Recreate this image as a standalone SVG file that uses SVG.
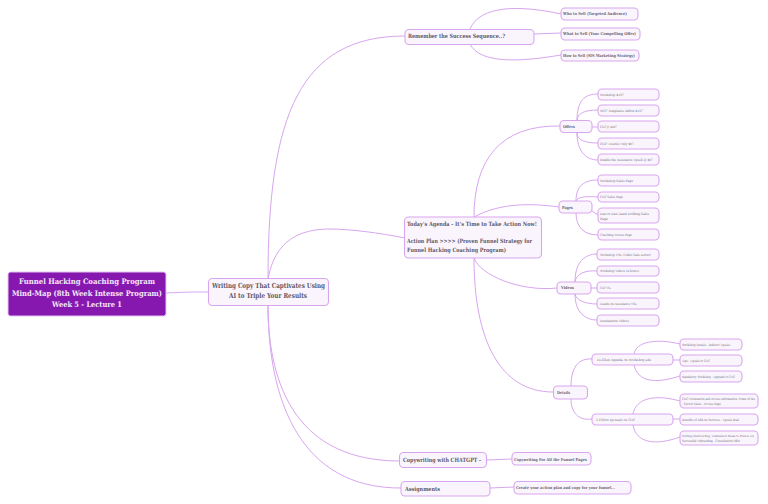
<svg xmlns="http://www.w3.org/2000/svg" width="768" height="504" viewBox="0 0 768 504">
<style>
text{font-family:"DejaVu Serif","Liberation Serif",serif;font-weight:700;fill:#5f5968}
.n{fill:#faf5fd;stroke:#d7a6ee;stroke-width:1.1}
.l{fill:none;stroke:#d7a6ee;stroke-width:1}
.t1{font-size:7px}.t2{font-size:5.8px}.t3{font-size:4px;fill:#6a6472}.t4{font-size:3.2px;fill:#77717f;font-weight:400}
.w{fill:#f4e8fa;font-size:7.6px}
</style>
<rect width="768" height="504" fill="#fff"/>
<g id="connectors">
<path class="l" d="M166 293C190 292 190 292 209 292"/>
<path class="l" d="M268 279C268 115 300 36 405 36"/>
<path class="l" d="M268 279C275 240 300 229 330 229C350 229 380 233 405 238"/>
<path class="l" d="M268 305C268 390 300 461 400 461"/>
<path class="l" d="M268 305C268 400 300 489 402 488"/>
<path class="l" d="M470 29C480 5 520 5 561 14"/>
<path class="l" d="M534 34L561 33"/>
<path class="l" d="M470 44C480 64 520 62 561 55"/>
<path class="l" d="M474 217C474 160 500 125 560 126"/>
<path class="l" d="M474 217C500 203 530 203 559 207"/>
<path class="l" d="M474 258C480 275 520 292 557 288"/>
<path class="l" d="M474 258C474 340 500 392 553 392"/>
<path class="l" d="M577 121C577 100 585 94 598 94"/><path class="l" d="M577 121C577 113 585 110 598 110"/><path class="l" d="M592 127L598 127"/><path class="l" d="M577 133C577 140 585 143 598 143"/><path class="l" d="M577 133C577 150 585 160 598 160"/>
<path class="l" d="M576 201C576 185 585 180 598 180"/><path class="l" d="M576 201C578 197 585 196 598 197"/><path class="l" d="M592 211L598 215"/><path class="l" d="M576 213C576 228 585 235 598 235"/>
<path class="l" d="M575 282C575 262 585 254 597 254"/><path class="l" d="M575 282C576 274 585 270 597 271"/><path class="l" d="M591 288L597 288"/><path class="l" d="M575 294C576 300 585 304 597 304"/><path class="l" d="M575 294C575 312 585 320 597 320"/>
<path class="l" d="M571 386C571 368 578 358 592 359"/><path class="l" d="M571 399C571 412 578 421 592 419"/>
<path class="l" d="M634 354C636 342 655 338 680 344"/><path class="l" d="M673 360L680 360"/><path class="l" d="M634 365C638 382 655 384 680 376"/>
<path class="l" d="M633 414C636 398 655 394 680 401"/><path class="l" d="M673 419L680 419"/><path class="l" d="M633 425C636 443 655 446 680 437"/>
<path class="l" d="M487 460L512 459"/>
<path class="l" d="M490 488L514 487"/>
</g>
<g id="root"><rect x="8" y="272" width="158" height="44" rx="2.5" fill="#8618b0" stroke="#e3c5f2"/><text class="w" x="19" y="283.500" textLength="136" lengthAdjust="spacingAndGlyphs">Funnel Hacking Coaching Program</text><text class="w" x="12" y="295.500" textLength="150" lengthAdjust="spacingAndGlyphs">Mind-Map (8th Week Intense Program)</text><text class="w" x="52" y="307" textLength="70" lengthAdjust="spacingAndGlyphs">Week 5 - Lecture 1</text></g>
<g id="main"><rect class="n" x="208.500" y="278.500" width="120" height="27" rx="4"/><text class="t1" x="212" y="287.500" textLength="113" lengthAdjust="spacingAndGlyphs">Writing Copy That Captivates Using</text><text class="t1" x="229" y="298" textLength="78" lengthAdjust="spacingAndGlyphs">AI to Triple Your Results</text></g>
<g id="n-remember"><rect class="n" x="405" y="29.500" width="129" height="15" rx="4"/><text class="t2" x="408" y="38" textLength="97" lengthAdjust="spacingAndGlyphs">Remember the Success Sequence..?</text></g>
<g id="n-who"><rect class="n" x="561" y="8" width="77" height="12" rx="4"/><text class="t3" x="563" y="15" textLength="64" lengthAdjust="spacingAndGlyphs">Who to Sell (Targeted Audience)</text></g>
<g id="n-what"><rect class="n" x="561" y="28" width="79" height="12" rx="4"/><text class="t3" x="563" y="35" textLength="73" lengthAdjust="spacingAndGlyphs">What to Sell (Your Compelling Offer)</text></g>
<g id="n-how"><rect class="n" x="561" y="50" width="78" height="11" rx="4"/><text class="t3" x="563" y="57" textLength="72" lengthAdjust="spacingAndGlyphs">How to Sell (SIS Marketing Strategy)</text></g>
<g id="n-agenda"><rect class="n" x="404.500" y="217" width="137" height="41" rx="4"/><text class="t2" x="407" y="226" textLength="130" lengthAdjust="spacingAndGlyphs">Today's Agenda - It's Time to Take Action Now!</text><text class="t2" x="407" y="243" textLength="125" lengthAdjust="spacingAndGlyphs">Action Plan &gt;&gt;&gt;&gt; (Proven Funnel Strategy for</text><text class="t2" x="407" y="252" textLength="99" lengthAdjust="spacingAndGlyphs">Funnel Hacking Coaching Program)</text></g>
<g id="n-offers"><rect class="n" x="560" y="120.500" width="32" height="12" rx="4"/><text class="t3" x="563" y="128" textLength="12" lengthAdjust="spacingAndGlyphs">Offers</text></g>
<g id="o1"><rect class="n" x="598" y="89" width="61" height="11" rx="4"/><text class="t4" x="600" y="95.500" textLength="24" lengthAdjust="spacingAndGlyphs">Workshop $197</text></g>
<g id="o2"><rect class="n" x="598" y="105" width="61" height="11" rx="4"/><text class="t4" x="600" y="111.500" textLength="43" lengthAdjust="spacingAndGlyphs">WFF Templates Addon $197</text></g>
<g id="o3"><rect class="n" x="598" y="121" width="61" height="11" rx="4"/><text class="t4" x="600" y="127.500" textLength="17" lengthAdjust="spacingAndGlyphs">FHF @ $497</text></g>
<g id="o4"><rect class="n" x="598" y="138" width="61" height="11" rx="4"/><text class="t4" x="600" y="144.500" textLength="34" lengthAdjust="spacingAndGlyphs">FHF: Hustle Only $97</text></g>
<g id="o5"><rect class="n" x="598" y="154" width="61" height="11" rx="4"/><text class="t4" x="600" y="160.500" textLength="53" lengthAdjust="spacingAndGlyphs">Bundle the Assistance Upsell @ $97</text></g>
<g id="n-pages"><rect class="n" x="559" y="201" width="33" height="12" rx="4"/><text class="t3" x="562" y="208.500" textLength="11" lengthAdjust="spacingAndGlyphs">Pages</text></g>
<g id="p1"><rect class="n" x="598" y="175" width="61" height="11" rx="4"/><text class="t4" x="600" y="181.500" textLength="33" lengthAdjust="spacingAndGlyphs">Workshop Sales Page</text></g>
<g id="p2"><rect class="n" x="598" y="192" width="61" height="10" rx="4"/><text class="t4" x="600" y="198" textLength="23" lengthAdjust="spacingAndGlyphs">FHF Sales Page</text></g>
<g id="p3"><rect class="n" x="598" y="208" width="61" height="15" rx="4"/><text class="t4" x="600" y="214.500" textLength="49" lengthAdjust="spacingAndGlyphs">Dan or Dan Hand Holding Sales</text><text class="t4" x="600" y="219.500" textLength="8" lengthAdjust="spacingAndGlyphs">Page</text></g>
<g id="p4"><rect class="n" x="598" y="229" width="61" height="11" rx="4"/><text class="t4" x="600" y="235.500" textLength="32" lengthAdjust="spacingAndGlyphs">Coaching Access Page</text></g>
<g id="n-videos"><rect class="n" x="557" y="282" width="34" height="12" rx="4"/><text class="t3" x="561" y="289" textLength="13" lengthAdjust="spacingAndGlyphs">Videos</text></g>
<g id="v1"><rect class="n" x="597" y="249" width="62" height="11" rx="4"/><text class="t4" x="600" y="255.500" textLength="51" lengthAdjust="spacingAndGlyphs">Workshop VSL (Video Sale Letter)</text></g>
<g id="v2"><rect class="n" x="597" y="266" width="62" height="10" rx="4"/><text class="t4" x="600" y="272" textLength="39" lengthAdjust="spacingAndGlyphs">Workshop Videos (4 hours)</text></g>
<g id="v3"><rect class="n" x="597" y="282" width="62" height="11" rx="4"/><text class="t4" x="600" y="288.500" textLength="11" lengthAdjust="spacingAndGlyphs">FHF VSL</text></g>
<g id="v4"><rect class="n" x="597" y="298" width="62" height="11" rx="4"/><text class="t4" x="600" y="304.500" textLength="37" lengthAdjust="spacingAndGlyphs">Hands on Assistance VSL</text></g>
<g id="v5"><rect class="n" x="597" y="315" width="62" height="11" rx="4"/><text class="t4" x="600" y="321.500" textLength="29" lengthAdjust="spacingAndGlyphs">Destination Videos</text></g>
<g id="n-details"><rect class="n" x="553.500" y="386" width="34" height="13" rx="4"/><text class="t3" x="557" y="393.500" textLength="13" lengthAdjust="spacingAndGlyphs">Details</text></g>
<g id="d1"><rect class="n" x="592" y="354" width="81" height="11" rx="4"/><text class="t4" x="597" y="360.500" textLength="54" lengthAdjust="spacingAndGlyphs">Hi-Ellen Agenda on Workshop ads</text></g>
<g id="d2"><rect class="n" x="592" y="414" width="81" height="11" rx="4"/><text class="t4" x="596" y="420.500" textLength="39" lengthAdjust="spacingAndGlyphs">2 Follow up mails on FHF</text></g>
<g id="d11"><rect class="n" x="680" y="339" width="62" height="11" rx="4"/><text class="t4" x="682" y="345.500" textLength="48" lengthAdjust="spacingAndGlyphs">Workshop Details - Indirect Upsale</text></g>
<g id="d12"><rect class="n" x="680" y="355" width="62" height="11" rx="4"/><text class="t4" x="682" y="361.500" textLength="28" lengthAdjust="spacingAndGlyphs">Tips - Upsale to FHF</text></g>
<g id="d13"><rect class="n" x="680" y="371" width="62" height="11" rx="4"/><text class="t4" x="682" y="377.500" textLength="53" lengthAdjust="spacingAndGlyphs">Mandatory Workshop - Upgrade to FHF</text></g>
<g id="d21"><rect class="n" x="680" y="394" width="78" height="14" rx="4"/><text class="t4" x="682" y="400" textLength="73" lengthAdjust="spacingAndGlyphs">FHF Orientation and Access Information. Some of the</text><text class="t4" x="682" y="405" textLength="39" lengthAdjust="spacingAndGlyphs">- Secret Sales - Access Page</text></g>
<g id="d22"><rect class="n" x="680" y="414" width="78" height="11" rx="4"/><text class="t4" x="682" y="420.500" textLength="57" lengthAdjust="spacingAndGlyphs">Benefits of Add-on Services - Upsale Mail</text></g>
<g id="d23"><rect class="n" x="680" y="431" width="78" height="14" rx="4"/><text class="t4" x="682" y="437" textLength="72" lengthAdjust="spacingAndGlyphs" style="font-size:2.8px">Getting Started Bug, Unfinished Tasks to Follow Up</text><text class="t4" x="682" y="442" textLength="58" lengthAdjust="spacingAndGlyphs">Successful Onboarding - Consultation/Offer</text></g>
<g id="n-copy"><rect class="n" x="399.500" y="452.500" width="87" height="15" rx="4"/><text class="t2" x="403" y="461.500" textLength="78" lengthAdjust="spacingAndGlyphs">Copywriting with CHATGPT -</text></g>
<g id="n-copy1"><rect class="n" x="512" y="452.500" width="79" height="12.500" rx="4"/><text class="t3" x="514" y="460.500" textLength="73" lengthAdjust="spacingAndGlyphs">Copywriting For All the Funnel Pages</text></g>
<g id="n-assign"><rect class="n" x="401" y="481.500" width="89" height="14.500" rx="4"/><text class="t2" x="405" y="490.500" textLength="35" lengthAdjust="spacingAndGlyphs">Assignments</text></g>
<g id="n-assign1"><rect class="n" x="514" y="481.500" width="117" height="12.500" rx="4"/><text class="t3" x="516" y="489" textLength="99" lengthAdjust="spacingAndGlyphs">Create your action plan and copy for your funnel...</text></g>
</svg>
